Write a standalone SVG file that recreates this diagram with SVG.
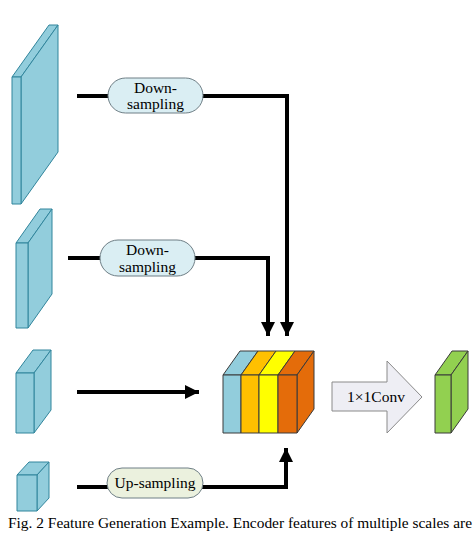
<svg xmlns="http://www.w3.org/2000/svg" width="474" height="536" viewBox="0 0 474 536">
<defs>
<style>
.blue{fill:#92cddc;stroke:#31859c;stroke-width:1;stroke-linejoin:round}
.c{fill:none;stroke:#000;stroke-width:4}
.pill{stroke:#6f7f86;stroke-width:1}
.t{font-family:"Liberation Serif","Times New Roman",serif;font-size:15.5px;fill:#000;text-anchor:middle}
.edge{stroke:#3a3a3a;stroke-width:1;stroke-linejoin:round}
</style>
<marker id="ah" viewBox="0 0 10 10" refX="10" refY="5" markerWidth="14" markerHeight="15" markerUnits="userSpaceOnUse" orient="auto"><path d="M0,0 L10,5 L0,10 Z" fill="#000"/></marker>
</defs>
<rect width="474" height="536" fill="#fff"/>

<g id="block1">
<polygon class="blue" points="12,77 21,77 58,25 49,25"/>
<polygon class="blue" points="21,77 58,25 58,152 21,204"/>
<rect class="blue" x="12" y="77" width="9" height="127"/>
</g>
<g id="block2">
<polygon class="blue" points="16,243 28,243 52,209 40,209"/>
<polygon class="blue" points="28,243 52,209 52,294 28,328"/>
<rect class="blue" x="16" y="243" width="12" height="85"/>
</g>
<g id="block3">
<polygon class="blue" points="16,373 34,373 51,350 33,350"/>
<polygon class="blue" points="34,373 51,350 51,410 34,433"/>
<rect class="blue" x="16" y="373" width="18" height="60"/>
</g>
<g id="block4">
<polygon class="blue" points="17,475 37,475 49,462 29,462"/>
<polygon class="blue" points="37,475 49,462 49,498 37,511"/>
<rect class="blue" x="17" y="475" width="20" height="36"/>
</g>

<g id="connectors">
<path class="c" d="M77,96 H287 V336" marker-end="url(#ah)"/>
<path class="c" d="M68,258 H268 V336" marker-end="url(#ah)"/>
<path class="c" d="M77,392 H199" marker-end="url(#ah)"/>
<path class="c" d="M77,487 H286 V448" marker-end="url(#ah)"/>
</g>

<g id="down1">
<rect class="pill" x="108" y="78" width="95" height="35" rx="17.5" fill="#daeef3"/>
<text class="t" x="155.5" y="93">Down-</text>
<text class="t" x="155.5" y="109">sampling</text>
</g>
<g id="down2">
<rect class="pill" x="100" y="240" width="95" height="36" rx="18" fill="#daeef3"/>
<text class="t" x="147.5" y="255">Down-</text>
<text class="t" x="147.5" y="272">sampling</text>
</g>
<g id="up">
<rect class="pill" x="107" y="468" width="96" height="30" rx="15" fill="#ebf1de"/>
<text class="t" x="155" y="488">Up-sampling</text>
</g>

<g id="concat">
<polygon class="edge" points="223,375 241,375 258,351 240,351" fill="#92cddc"/>
<polygon class="edge" points="241,375 259,375 276,351 258,351" fill="#ffc000"/>
<polygon class="edge" points="259,375 278,375 295,351 276,351" fill="#ffff00"/>
<polygon class="edge" points="278,375 297,375 314,351 295,351" fill="#e46c0a"/>
<polygon class="edge" points="297,375 314,351 314,409 297,433" fill="#e46c0a"/>
<rect class="edge" x="223" y="375" width="18" height="58" fill="#92cddc"/>
<rect class="edge" x="241" y="375" width="18" height="58" fill="#ffc000"/>
<rect class="edge" x="259" y="375" width="19" height="58" fill="#ffff00"/>
<rect class="edge" x="278" y="375" width="19" height="58" fill="#e46c0a"/>
</g>

<g id="conv">
<polygon points="332,382 387,382 387,361 422,397 387,433 387,411 332,411" fill="#eeeef4" stroke="#8a8a8a" stroke-width="1"/>
<text class="t" x="376" y="402">1×1Conv</text>
</g>

<g id="output">
<polygon class="edge" points="435,375 451,375 468,351 452,351" fill="#92d050" stroke="#4f6228"/>
<polygon class="edge" points="451,375 468,351 468,409 451,433" fill="#92d050" stroke="#4f6228"/>
<rect class="edge" x="435" y="375" width="16" height="58" fill="#92d050" stroke="#4f6228"/>
</g>

<text x="8" y="528" font-family="'Liberation Serif','Times New Roman',serif" font-size="15.5" fill="#000" textLength="464" lengthAdjust="spacingAndGlyphs">Fig. 2 Feature Generation Example. Encoder features of multiple scales are</text>
</svg>
